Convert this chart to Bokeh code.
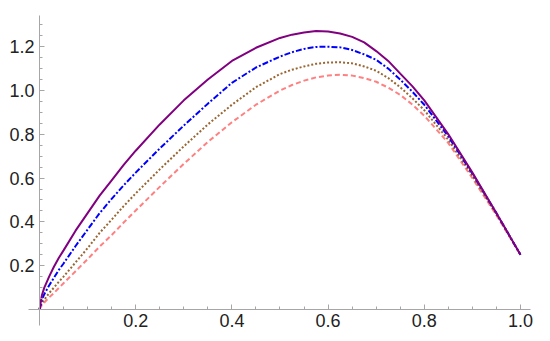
from bokeh.plotting import figure
from bokeh.models import Range1d, FixedTicker, CustomJSTickFormatter
from bokeh.embed import file_html
from bokeh.resources import INLINE

# ---- data ----
x = [0, 0.005, 0.01, 0.02, 0.03, 0.04, 0.05, 0.075, 0.1, 0.125, 0.15, 0.175, 0.2, 0.25, 0.3, 0.35,
     0.4, 0.45, 0.5, 0.525, 0.55, 0.575, 0.6, 0.625, 0.65, 0.675, 0.7, 0.725, 0.75, 0.775,
     0.8, 0.85, 0.9, 0.95, 1.0]

purple = [0, 0.065, 0.10, 0.15, 0.195, 0.235, 0.27, 0.36, 0.44, 0.52, 0.59, 0.66, 0.725, 0.845, 0.955, 1.05,
          1.135, 1.195, 1.24, 1.255, 1.265, 1.272, 1.269, 1.26, 1.245, 1.22, 1.18, 1.135, 1.077, 1.02,
          0.955, 0.80, 0.625, 0.44, 0.25]
blue = [0, 0.045, 0.07, 0.11, 0.145, 0.18, 0.21, 0.29, 0.365, 0.44, 0.505, 0.567, 0.625, 0.735, 0.84, 0.94,
        1.035, 1.105, 1.155, 1.175, 1.19, 1.199, 1.20, 1.197, 1.185, 1.165, 1.14, 1.10, 1.05, 0.995,
        0.935, 0.79, 0.62, 0.44, 0.25]
brown = [0, 0.03, 0.045, 0.075, 0.10, 0.126, 0.15, 0.215, 0.28, 0.35, 0.41, 0.472, 0.53, 0.64, 0.745, 0.845,
         0.935, 1.015, 1.075, 1.095, 1.11, 1.122, 1.128, 1.129, 1.124, 1.11, 1.09, 1.057, 1.015, 0.965,
         0.91, 0.775, 0.61, 0.435, 0.25]
salmon = [0, 0.02, 0.032, 0.055, 0.075, 0.098, 0.12, 0.175, 0.23, 0.287, 0.34, 0.397, 0.452, 0.56, 0.665, 0.765,
          0.855, 0.935, 1.0, 1.025, 1.045, 1.06, 1.068, 1.072, 1.068, 1.057, 1.04, 1.013, 0.98, 0.936,
          0.885, 0.76, 0.60, 0.43, 0.25]

x_ticks = [0.2, 0.4, 0.6, 0.8, 1.0]
y_ticks = [0.2, 0.4, 0.6, 0.8, 1.0, 1.2]
x_minor = [i * 0.05 for i in range(1, 21)]
y_minor = [i * 0.05 for i in range(1, 27)]

# frame covers the whole figure; axes cross at the origin
p = figure(width=534, height=333, output_backend="svg", toolbar_location=None,
           x_range=Range1d(-0.08108, 1.02911), y_range=Range1d(-0.10959, 1.41096),
           min_border_left=0, min_border_right=0, min_border_top=0, min_border_bottom=0)
p.outline_line_color = None
p.grid.visible = False
p.background_fill_color = "white"
p.border_fill_color = "white"

p.line(x, salmon, line_color="#FF8080", line_width=2, line_dash="5 3")
p.line(x, brown, line_color="#996633", line_width=2, line_dash="2 2")
p.line(x, blue, line_color="#0000FF", line_width=2, line_dash="6 2 2 2")
p.line(x, purple, line_color="#800080", line_width=2)

fmt = CustomJSTickFormatter(code="return tick.toFixed(1);")
for ax, ticks, minor, bnds in ((p.xaxis[0], x_ticks, x_minor, (-0.02287, 1.0208)),
                               (p.yaxis[0], y_ticks, y_minor, (-0.0731, 1.3425))):
    ax.fixed_location = 0
    ax.bounds = bnds
    ax.ticker = FixedTicker(ticks=ticks, minor_ticks=minor)
    ax.formatter = fmt
    ax.axis_line_color = "#a6a6a6"
    ax.axis_line_width = 1
    ax.major_tick_line_color = "#a6a6a6"
    ax.minor_tick_line_color = "#a6a6a6"
    ax.major_tick_in = 5
    ax.major_tick_out = 0
    ax.minor_tick_in = 3
    ax.minor_tick_out = 0
    ax.major_label_text_font = "Liberation Sans"
    ax.major_label_text_font_size = "18px"
    ax.major_label_text_color = "#222222"
    ax.major_label_standoff = 5

open("out.html", "w").write(file_html(p, INLINE))
